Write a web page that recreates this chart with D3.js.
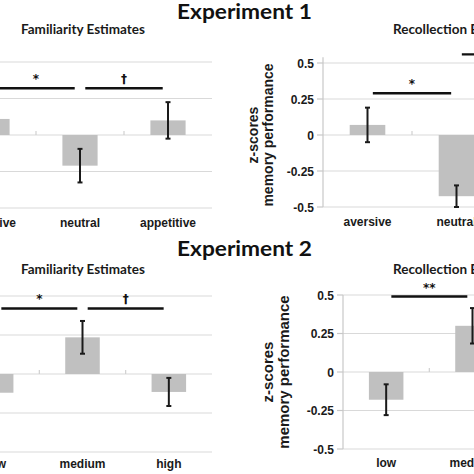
<!DOCTYPE html>
<html>
<head>
<meta charset="utf-8">
<script src="https://cdn.jsdelivr.net/npm/d3@7"></script>
<style>
  html, body { margin: 0; padding: 0; background: #fff; }
  svg { display: block; }
</style>
</head>
<body>
<div id="chart"></div>
<script>
// Two experiments, familiarity and recollection z-scores per category

const exp1Categories = ['aversive', 'neutral', 'appetitive'];
const exp2Categories = ['low', 'medium', 'high'];

const exp1Familiarity = [0.11, -0.21, 0.10];
const exp1FamiliarityErr = [0.12, 0.115, 0.125];
const exp1Recollection = [0.07, -0.425, 0.30];
const exp1RecollectionErr = [0.12, 0.075, 0.12];

const exp2Familiarity = [-0.12, 0.235, -0.115];
const exp2FamiliarityErr = [0.10, 0.105, 0.09];
const exp2Recollection = [-0.18, 0.30, 0.10];
const exp2RecollectionErr = [0.10, 0.115, 0.10];

const yTicks = [-0.5, -0.25, 0, 0.25, 0.5];
const yTickLabels = ['-0.5', '-0.25', '0', '0.25', '0.5'];

// significance brackets: [from, to, label, height]
const exp1FamSig = [[0, 1, '*', 0.32], [1, 2, '\u2020', 0.32]];
const exp1RecSig = [[0, 1, '*', 0.29], [1, 2, '*', 0.56]];
const exp2FamSig = [[0, 1, '*', 0.42], [1, 2, '\u2020', 0.42]];
const exp2RecSig = [[0, 1, '**', 0.49]];

const headings = ['Experiment 1', 'Experiment 2'];

const WIDTH = 474;
const HEIGHT = 474;
const TITLE_FONT = 'Lato, "Noto Sans", sans-serif';
const AXIS_FONT = '"Liberation Sans", Arial, sans-serif';
const MARK_FONT = '"DejaVu Sans", "Liberation Sans", sans-serif';

const svg = d3.select('#chart')
  .append('svg')
  .attr('width', WIDTH)
  .attr('height', HEIGHT)
  .attr('viewBox', `0 0 ${WIDTH} ${HEIGHT}`);

svg.append('rect').attr('width', WIDTH).attr('height', HEIGHT).attr('fill', '#fff');

function drawPanel(p) {
  const g = svg.append('g');

  const x = d3.scaleBand()
    .domain(p.categories)
    .range([p.left, p.right])
    .paddingInner(0)
    .paddingOuter(0);

  const y = d3.scaleLinear()
    .domain([-0.5, 0.5])
    .range([p.bottom, p.top]);

  const bw = x.bandwidth();
  const barW = bw * 0.4;
  const cx = c => x(c) + bw / 2;

  // gridlines
  g.selectAll('.grid')
    .data(yTicks)
    .join('line')
    .attr('x1', p.left)
    .attr('x2', p.right)
    .attr('y1', d => y(d))
    .attr('y2', d => y(d))
    .attr('stroke', '#d9d9d9')
    .attr('stroke-width', 1.2);

  // category ticks on zero line
  g.selectAll('.ctick')
    .data(p.categories.slice(1))
    .join('line')
    .attr('x1', d => x(d)).attr('x2', d => x(d))
    .attr('y1', y(0) - 4).attr('y2', y(0))
    .attr('stroke', '#d0d0d0')
    .attr('stroke-width', 1.2);

  // the left panels have their value axis outside the picture
  if (p.showAxis) {
    g.append('line')
      .attr('x1', p.left).attr('x2', p.left)
      .attr('y1', y(p.axisTop)).attr('y2', y(-0.5))
      .attr('stroke', '#c8c8c8')
      .attr('stroke-width', 1.2);

    g.selectAll('.ytick')
      .data(yTicks)
      .join('line')
      .attr('x1', p.left - 6).attr('x2', p.left)
      .attr('y1', d => y(d)).attr('y2', d => y(d))
      .attr('stroke', '#c8c8c8')
      .attr('stroke-width', 1.2);

    g.selectAll('.ylab')
      .data(yTicks)
      .join('text')
      .attr('x', p.left - 9)
      .attr('y', d => y(d) + 4.5)
      .attr('text-anchor', 'end')
      .attr('font-family', AXIS_FONT)
      .attr('font-weight', 'bold')
      .attr('font-size', 12)
      .attr('fill', '#1a1a1a')
      .text((d, i) => yTickLabels[i]);

    const yt = g.append('text')
      .attr('transform', `translate(${p.yTitleX},${(y(0.5) + y(-0.5)) / 2}) rotate(-90)`)
      .attr('text-anchor', 'middle')
      .attr('font-family', AXIS_FONT)
      .attr('font-weight', 'bold')
      .attr('font-size', p.yTitleSize)
      .attr('fill', '#1a1a1a');
    yt.append('tspan').attr('x', 0).attr('y', 0).text('z-scores');
    yt.append('tspan').attr('x', 0).attr('y', p.yTitleGap).text('memory performance');
  }

  // bars
  g.selectAll('.bar')
    .data(p.values)
    .join('rect')
    .attr('x', (d, i) => cx(p.categories[i]) - barW / 2)
    .attr('width', barW)
    .attr('y', d => y(Math.max(0, d)))
    .attr('height', d => Math.abs(y(d) - y(0)))
    .attr('fill', '#c0c0c0');

  // error bars
  const eb = g.selectAll('.err')
    .data(p.values.map((v, i) => ({v, e: p.errors[i], c: p.categories[i]})))
    .join('g')
    .attr('stroke', '#1a1a1a')
    .attr('stroke-width', 2);
  eb.append('line')
    .attr('x1', d => cx(d.c)).attr('x2', d => cx(d.c))
    .attr('y1', d => y(d.v + d.e)).attr('y2', d => y(d.v - d.e));
  eb.append('line')
    .attr('x1', d => cx(d.c) - 2.5).attr('x2', d => cx(d.c) + 2.5)
    .attr('y1', d => y(d.v + d.e)).attr('y2', d => y(d.v + d.e));
  eb.append('line')
    .attr('x1', d => cx(d.c) - 2.5).attr('x2', d => cx(d.c) + 2.5)
    .attr('y1', d => y(d.v - d.e)).attr('y2', d => y(d.v - d.e));

  // category labels
  g.selectAll('.xlab')
    .data(p.categories)
    .join('text')
    .attr('x', d => cx(d))
    .attr('y', p.xLabelY)
    .attr('text-anchor', 'middle')
    .attr('font-family', AXIS_FONT)
    .attr('font-weight', 'bold')
    .attr('font-size', 12)
    .attr('fill', '#1a1a1a')
    .text(d => d);

  // significance brackets
  const pad = bw * 0.06;
  const sg = g.selectAll('.sig')
    .data(p.sig)
    .join('g');
  sg.append('line')
    .attr('x1', d => cx(p.categories[d[0]]) + pad)
    .attr('x2', d => cx(p.categories[d[1]]) - pad)
    .attr('y1', d => y(d[3])).attr('y2', d => y(d[3]))
    .attr('stroke', '#111')
    .attr('stroke-width', 2.4);
  sg.append('text')
    .attr('x', d => (cx(p.categories[d[0]]) + cx(p.categories[d[1]])) / 2)
    .attr('y', d => y(d[3]) - 5)
    .attr('text-anchor', 'middle')
    .attr('font-family', MARK_FONT)
    .attr('font-weight', 'bold')
    .attr('font-size', 12)
    .attr('fill', '#111')
    .style('fill', '#111')
    .text(d => d[2]);

  // panel title
  g.append('text')
    .attr('x', p.titleX)
    .attr('y', p.titleY)
    .attr('text-anchor', p.titleAnchor)
    .attr('font-family', TITLE_FONT)
    .attr('font-weight', 'bold')
    .attr('font-size', 13.5)
    .attr('fill', '#1a1a1a')
    .text(p.title);
}

const panels = [
  {title: 'Familiarity Estimates', categories: exp1Categories, values: exp1Familiarity, errors: exp1FamiliarityErr, sig: exp1FamSig,
   left: -52, right: 212, top: 62, bottom: 208, axisTop: 0.5, showAxis: false,
   xLabelY: 227, titleX: 83, titleY: 34, titleAnchor: 'middle'},
  {title: 'Recollection Estimates', categories: exp1Categories, values: exp1Recollection, errors: exp1RecollectionErr, sig: exp1RecSig,
   left: 323, right: 590, top: 63, bottom: 207, axisTop: 0.54, showAxis: true, yTitleX: 258, yTitleSize: 14, yTitleGap: 15,
   xLabelY: 226, titleX: 393, titleY: 34, titleAnchor: 'start'},
  {title: 'Familiarity Estimates', categories: exp2Categories, values: exp2Familiarity, errors: exp2FamiliarityErr, sig: exp2FamSig,
   left: -47, right: 212, top: 296, bottom: 452, axisTop: 0.5, showAxis: false,
   xLabelY: 468, titleX: 83, titleY: 274, titleAnchor: 'middle'},
  {title: 'Recollection Estimates', categories: exp2Categories, values: exp2Recollection, errors: exp2RecollectionErr, sig: exp2RecSig,
   left: 343, right: 602, top: 295, bottom: 449, axisTop: 0.5, showAxis: true, yTitleX: 273, yTitleSize: 15, yTitleGap: 16,
   xLabelY: 467, titleX: 393, titleY: 274, titleAnchor: 'start'}
];

panels.forEach(drawPanel);

// experiment headings
svg.selectAll('.heading')
  .data(headings)
  .join('text')
  .attr('x', 244.5)
  .attr('y', (d, i) => i === 0 ? 19 : 256)
  .attr('text-anchor', 'middle')
  .attr('font-family', TITLE_FONT)
  .attr('font-weight', 'bold')
  .attr('font-size', 21)
  .attr('textLength', 135)
  .attr('lengthAdjust', 'spacingAndGlyphs')
  .attr('fill', '#111')
  .text(d => d);
</script>
</body>
</html>
